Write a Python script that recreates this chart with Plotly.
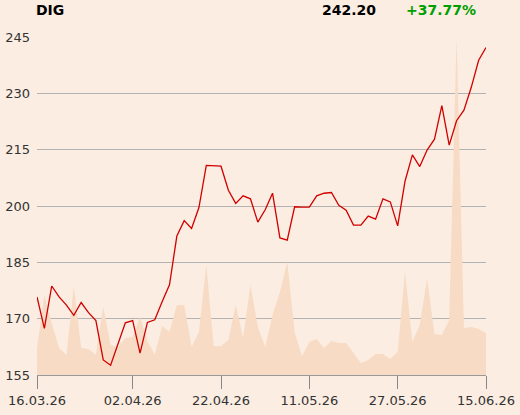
import plotly.graph_objects as go

ticker = "DIG"
last_price_label = "242.20"
change_label = "+37.77%"

price = [175.80, 167.4, 178.7, 175.8, 173.6, 170.9, 174.3, 171.6, 169.5, 159.0,
         157.6, 163.2, 168.9, 169.5, 160.8, 169.0, 169.7, 174.5, 179.0, 192.0,
         196.1, 194.0, 199.6, 210.8, 210.7, 210.6, 204.2, 200.7, 202.7, 201.9,
         195.7, 199.0, 203.4, 191.5, 190.9, 199.8, 199.7, 199.7, 202.7, 203.4,
         203.6, 200.2, 198.9, 194.9, 194.9, 197.3, 196.5, 201.9, 201.1, 194.7,
         206.6, 213.6, 210.5, 214.9, 217.8, 226.7, 216.2, 222.7, 225.5, 231.6,
         238.8, 242.20]

volume = [27, 80, 52, 27, 20, 88, 27, 26, 20, 68,
          30, 28, 37, 38, 58, 34, 20, 49, 43, 70,
          70, 28, 43, 110, 29, 29, 35, 70, 37, 90,
          48, 28, 60, 83, 113, 43, 19, 33, 36, 27,
          34, 32, 32, 22, 12, 15, 21, 21, 16, 23,
          103, 33, 50, 96, 41, 40, 55, 336, 47, 48,
          46, 42]

idx = list(range(len(price)))

x_tick_idx = [0, 13, 25, 37, 49, 61]
x_tick_labels = ["16.03.26", "02.04.26", "22.04.26", "11.05.26", "27.05.26", "15.06.26"]
y_ticks = [155, 170, 185, 200, 215, 230, 245]

bg = "#fbede1"
font_family = "DejaVu Sans"

fig = go.Figure()
fig.add_trace(go.Scatter(
    x=idx, y=volume, yaxis="y", mode="lines",
    line=dict(width=0, color="#f7dbc5"), fill="tozeroy",
    fillcolor="#f7dbc5", hoverinfo="skip", showlegend=False))
fig.add_trace(go.Scatter(
    x=idx, y=price, yaxis="y2", mode="lines",
    line=dict(width=1.3, color="#d00000"), showlegend=False))

fig.update_layout(
    width=520, height=415,
    margin=dict(l=37, r=34, t=37, b=40),
    paper_bgcolor=bg, plot_bgcolor=bg,
    font=dict(family=font_family, size=13, color="#333333"),
    xaxis=dict(range=[0, 61], tickmode="array", tickvals=x_tick_idx,
               ticktext=x_tick_labels, showgrid=False, zeroline=False,
               showline=True, linecolor="#999999", linewidth=1,
               ticks="outside", ticklen=13, tickcolor="#888888",
               automargin=False,
               tickfont=dict(size=13, color="#333333")),
    yaxis=dict(range=[0, 337.5], showgrid=False, showticklabels=False,
               zeroline=False, showline=False, ticks="", automargin=False),
    yaxis2=dict(range=[155, 245], tickmode="array", tickvals=y_ticks,
                overlaying="y", side="left", ticklabelstandoff=6,
                showgrid=True, gridcolor="#b3b3b3", gridwidth=1,
                zeroline=False, showline=False, ticks="", automargin=False,
                tickfont=dict(size=13, color="#333333")),
    annotations=[
        dict(text="<b>%s</b>" % ticker, xref="paper", yref="paper",
             x=-3 / 449, y=(375 - 10) / 338, xanchor="left", yanchor="middle",
             showarrow=False, font=dict(size=14, color="#000000")),
        dict(text="<b>%s</b>" % last_price_label, xref="paper", yref="paper",
             x=(378 - 37) / 449, y=(375 - 10) / 338, xanchor="right", yanchor="middle",
             showarrow=False, font=dict(size=14, color="#000000")),
        dict(text="<b>%s</b>" % change_label, xref="paper", yref="paper",
             x=(478 - 37) / 449, y=(375 - 10) / 338, xanchor="right", yanchor="middle",
             showarrow=False, font=dict(size=14, color="#00a000")),
    ],
)

fig.write_html("out.html")
